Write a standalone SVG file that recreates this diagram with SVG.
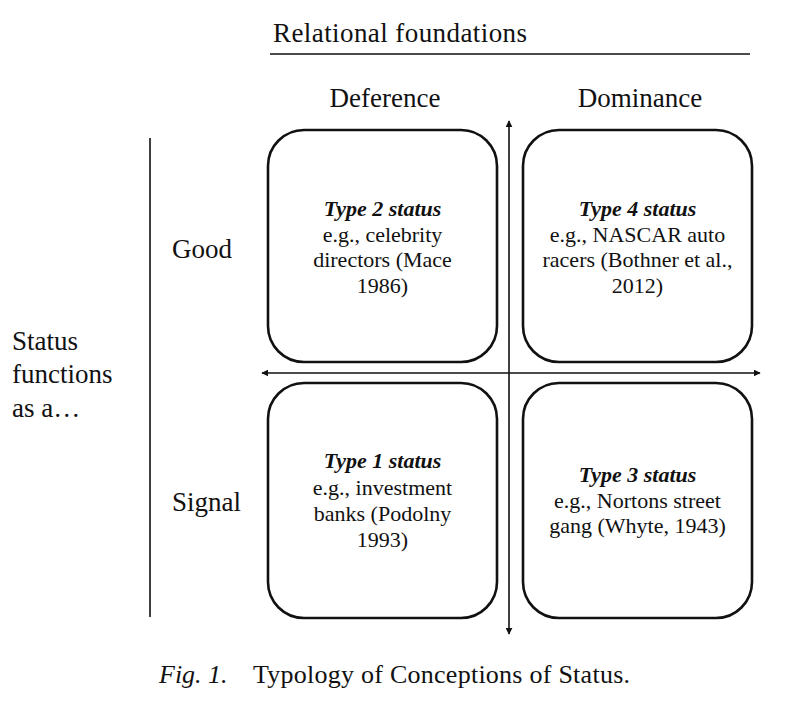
<svg xmlns="http://www.w3.org/2000/svg" width="800" height="707" viewBox="0 0 800 707" font-family="'Liberation Serif', 'DejaVu Serif', serif">
<style>
  text { font-family: "Liberation Serif", "DejaVu Serif", serif; fill: #111; }
  .hdr { font-size: 27px; }
  .lbl { font-size: 27px; }
  .box { fill: #fff; stroke: #111; stroke-width: 2.6; }
  .bt { font-size: 22px; text-anchor: middle; }
  .bt .ttl { font-weight: bold; font-style: italic; }
  .rule { stroke: #111; stroke-width: 1.6; fill: none; }
  .axis { stroke: #111; stroke-width: 1.6; fill: none; }
  .cap { font-size: 26px; }
</style>
<defs>
  <marker id="ah" viewBox="0 0 10 10" refX="9" refY="5" markerWidth="7" markerHeight="7" markerUnits="userSpaceOnUse" orient="auto-start-reverse">
    <path d="M0,0 L10,5 L0,10 Z" fill="#111"/>
  </marker>
</defs>
<rect width="800" height="707" fill="#fff"/>

<g id="header">
  <text class="hdr" x="273" y="42" textLength="254">Relational foundations</text>
  <line class="rule" x1="270" y1="54" x2="750" y2="54"/>
  <text class="hdr" x="385" y="107" text-anchor="middle">Deference</text>
  <text class="hdr" x="640" y="107" text-anchor="middle">Dominance</text>
</g>

<g id="row-labels">
  <line class="rule" x1="150" y1="138" x2="150" y2="617"/>
  <text class="lbl" x="172" y="258">Good</text>
  <text class="lbl" x="172" y="511">Signal</text>
  <text class="lbl" x="12" y="350">Status</text>
  <text class="lbl" x="12" y="383">functions</text>
  <text class="lbl" x="12" y="417">as a…</text>
</g>

<g id="connectors">
  <line class="axis" x1="509" y1="634" x2="509" y2="121" marker-start="url(#ah)" marker-end="url(#ah)"/>
  <line class="axis" x1="262" y1="373" x2="760" y2="373" marker-start="url(#ah)" marker-end="url(#ah)"/>
</g>

<g id="type2">
  <rect class="box" x="268" y="130" width="229" height="232" rx="36" ry="36"/>
  <text class="bt" x="382.5" y="216"><tspan class="ttl">Type 2 status</tspan><tspan x="382.5" y="242">e.g., celebrity</tspan><tspan x="382.5" y="267">directors (Mace</tspan><tspan x="382.5" y="293">1986)</tspan></text>
</g>

<g id="type4">
  <rect class="box" x="523" y="130" width="229" height="232" rx="36" ry="36"/>
  <text class="bt" x="637.5" y="216"><tspan class="ttl">Type 4 status</tspan><tspan x="637.5" y="242">e.g., NASCAR auto</tspan><tspan x="637.5" y="267">racers (Bothner et al.,</tspan><tspan x="637.5" y="293">2012)</tspan></text>
</g>

<g id="type1">
  <rect class="box" x="268" y="383" width="229" height="235" rx="36" ry="36"/>
  <text class="bt" x="382.5" y="468"><tspan class="ttl">Type 1 status</tspan><tspan x="382.5" y="495">e.g., investment</tspan><tspan x="382.5" y="521">banks (Podolny</tspan><tspan x="382.5" y="547">1993)</tspan></text>
</g>

<g id="type3">
  <rect class="box" x="523" y="383" width="229" height="235" rx="36" ry="36"/>
  <text class="bt" x="637.5" y="482"><tspan class="ttl">Type 3 status</tspan><tspan x="637.5" y="508">e.g., Nortons street</tspan><tspan x="637.5" y="533">gang (Whyte, 1943)</tspan></text>
</g>

<g id="caption">
  <text class="cap" x="159" y="683" font-style="italic">Fig. 1.</text>
  <text class="cap" x="253" y="683" textLength="377">Typology of Conceptions of Status.</text>
</g>
</svg>
